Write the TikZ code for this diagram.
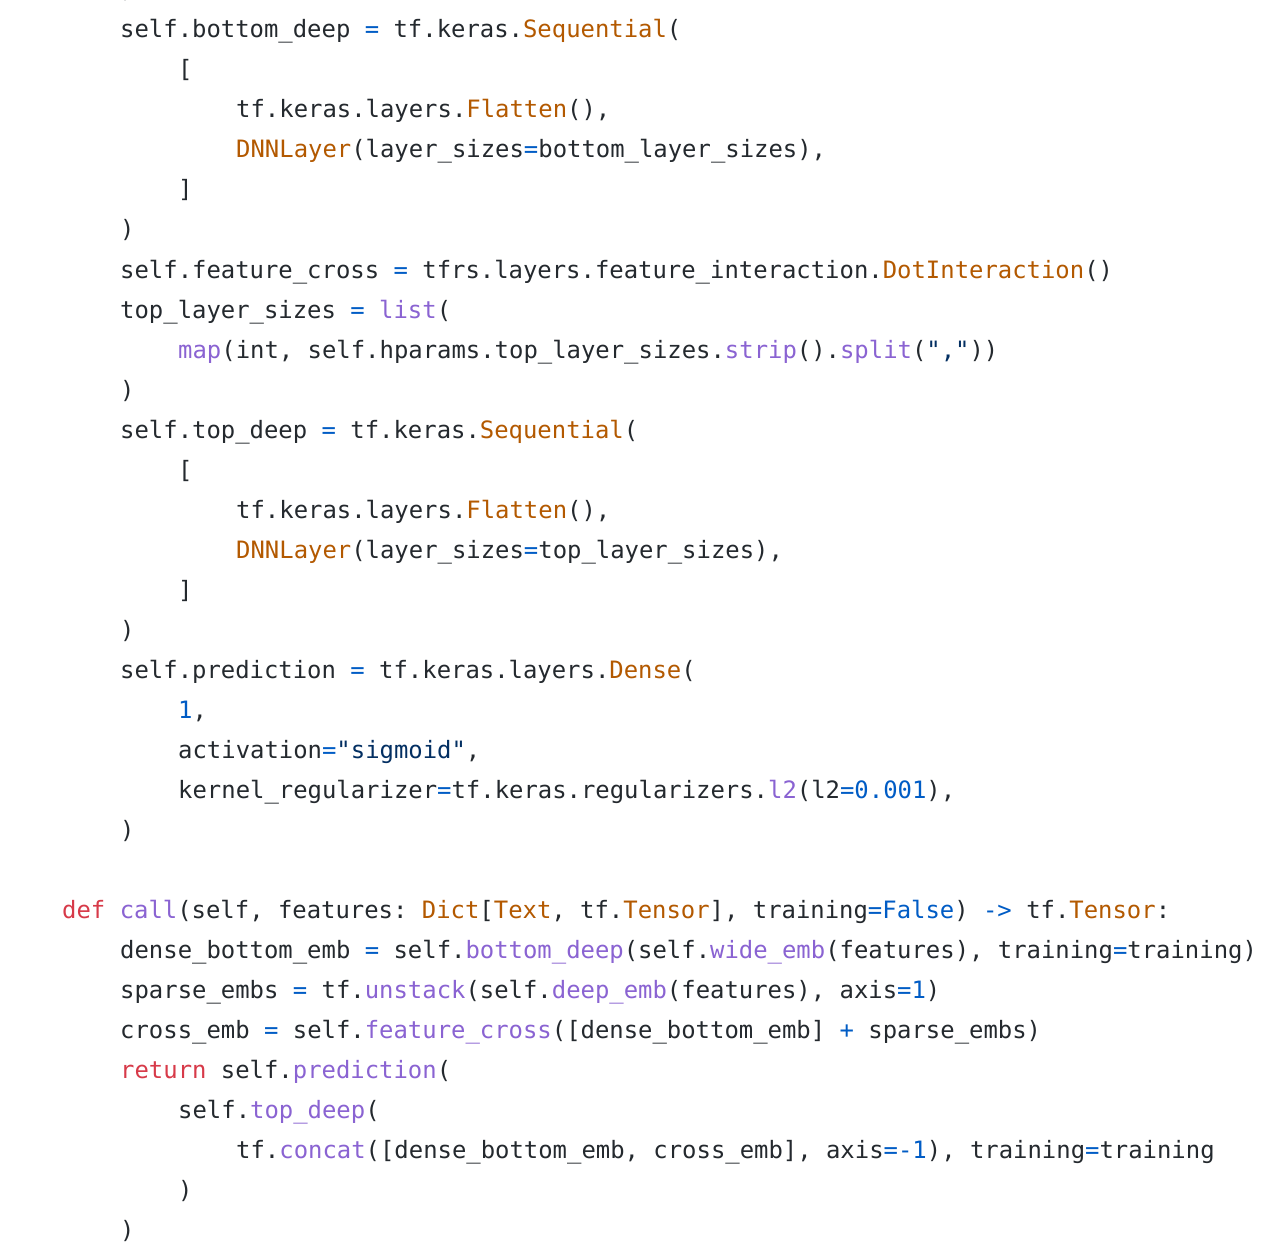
\documentclass[tikz,border=0pt]{standalone}
\usepackage{fontspec}
\setmonofont{DejaVu Sans Mono}
\definecolor{txt}{HTML}{24292E}
\definecolor{corg}{HTML}{B35900}
\definecolor{cblu}{HTML}{005CC5}
\definecolor{cpur}{HTML}{8A63D2}
\definecolor{cred}{HTML}{D73A49}
\definecolor{cnav}{HTML}{032F62}
\newcommand\cO[1]{\textcolor{corg}{#1}}
\newcommand\cB[1]{\textcolor{cblu}{#1}}
\newcommand\cP[1]{\textcolor{cpur}{#1}}
\newcommand\cR[1]{\textcolor{cred}{#1}}
\newcommand\cS[1]{\textcolor{cnav}{#1}}
\newcommand\EQ{\cB{=}}
\tikzset{code/.style={anchor=base west,inner sep=0pt,text=txt,font=\ttfamily\fontsize{23.9}{29}\selectfont}}
\newcommand\codeline[3]{\node[code] (l#1) at ({62+58*#2},{-38-40*#1}) {#3};}
\begin{document}
\begin{tikzpicture}[x=1pt,y=1pt]
\useasboundingbox[fill=white] (0,0) rectangle (1264,-1260);
\codeline{-1}{1}{)}
\codeline{0}{1}{self.bottom\_deep \EQ{} tf.keras.\cO{Sequential}(}
\codeline{1}{2}{[}
\codeline{2}{3}{tf.keras.layers.\cO{Flatten}(),}
\codeline{3}{3}{\cO{DNNLayer}(layer\_sizes\EQ{}bottom\_layer\_sizes),}
\codeline{4}{2}{]}
\codeline{5}{1}{)}
\codeline{6}{1}{self.feature\_cross \EQ{} tfrs.layers.feature\_interaction.\cO{DotInteraction}()}
\codeline{7}{1}{top\_layer\_sizes \EQ{} \cP{list}(}
\codeline{8}{2}{\cP{map}(int, self.hparams.top\_layer\_sizes.\cP{strip}().\cP{split}(\cS{","}))}
\codeline{9}{1}{)}
\codeline{10}{1}{self.top\_deep \EQ{} tf.keras.\cO{Sequential}(}
\codeline{11}{2}{[}
\codeline{12}{3}{tf.keras.layers.\cO{Flatten}(),}
\codeline{13}{3}{\cO{DNNLayer}(layer\_sizes\EQ{}top\_layer\_sizes),}
\codeline{14}{2}{]}
\codeline{15}{1}{)}
\codeline{16}{1}{self.prediction \EQ{} tf.keras.layers.\cO{Dense}(}
\codeline{17}{2}{\cB{1},}
\codeline{18}{2}{activation\EQ{}\cS{"sigmoid"},}
\codeline{19}{2}{kernel\_regularizer\EQ{}tf.keras.regularizers.\cP{l2}(l2\EQ{}\cB{0.001}),}
\codeline{20}{1}{)}
\codeline{22}{0}{\cR{def} \cP{call}(self, features: \cO{Dict}[\cO{Text}, tf.\cO{Tensor}], training\EQ{}\cB{False}) \cB{->} tf.\cO{Tensor}:}
\codeline{23}{1}{dense\_bottom\_emb \EQ{} self.\cP{bottom\_deep}(self.\cP{wide\_emb}(features), training\EQ{}training)}
\codeline{24}{1}{sparse\_embs \EQ{} tf.\cP{unstack}(self.\cP{deep\_emb}(features), axis\EQ{}\cB{1})}
\codeline{25}{1}{cross\_emb \EQ{} self.\cP{feature\_cross}([dense\_bottom\_emb] \cB{+} sparse\_embs)}
\codeline{26}{1}{\cR{return} self.\cP{prediction}(}
\codeline{27}{2}{self.\cP{top\_deep}(}
\codeline{28}{3}{tf.\cP{concat}([dense\_bottom\_emb, cross\_emb], axis\EQ{}\cB{-1}), training\EQ{}training}
\codeline{29}{2}{)}
\codeline{30}{1}{)}
\end{tikzpicture}
\end{document}
